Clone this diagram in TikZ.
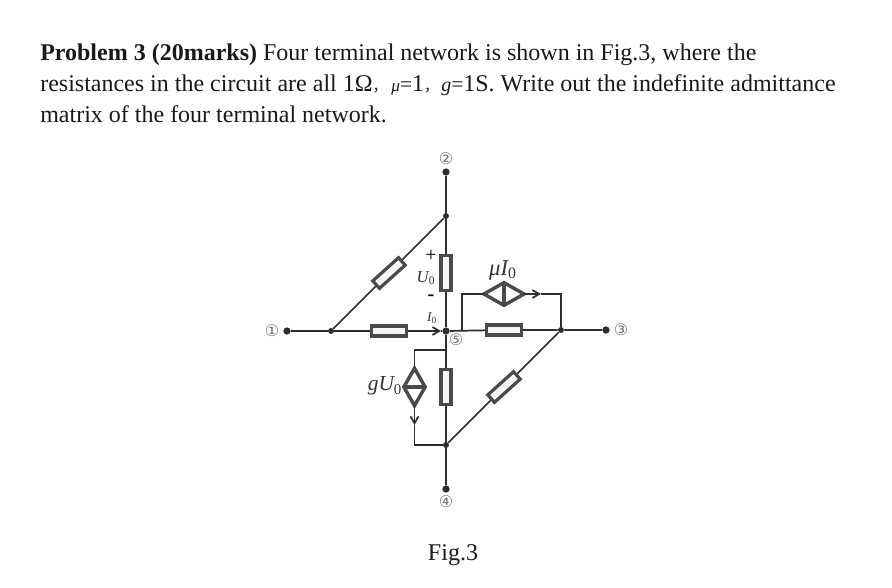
\documentclass[tikz,border=0pt]{standalone}
\usepackage{fontspec}
\setmainfont{Liberation Serif}
\newfontfamily\symfont{DejaVu Sans}
\newfontfamily\cjk{Noto Sans CJK SC}
\usetikzlibrary{arrows,calc,positioning,shapes.geometric}
\definecolor{wirecol}{HTML}{2E2E2E}
\definecolor{bodycol}{HTML}{4A4A4A}
\tikzset{
  absatz/.style={anchor=base west,inner sep=0pt,font=\fontsize{18}{20}\selectfont,text=black!90},
  punkt/.style={circle,fill=wirecol,inner sep=0pt,minimum size=5.5pt},
  knick/.style={circle,fill=wirecol,inner sep=0pt,minimum size=4.5pt},
  widerstand/.style={draw=bodycol,line width=2.4pt,fill=black!4,rectangle,inner sep=0pt,minimum width=26pt,minimum height=7.5pt},
  quelle/.style={draw=bodycol,line width=2.6pt,fill=white,diamond,aspect=1,inner sep=0pt,outer sep=0pt},
  leitung/.style={draw=wirecol,line width=1.3pt},
  klemme/.style={inner sep=0pt,text=black!55,font=\symfont\fontsize{12}{12}\selectfont},
  wert/.style={inner sep=0pt,text=black!80,font=\fontsize{12.5}{12.5}\selectfont\itshape}
}
\begin{document}
\begin{tikzpicture}[x=0.75pt,y=-0.75pt,>=angle 60]
\useasboundingbox (0,0) rectangle (892,587);
%Aufgabentext
\node[absatz] (zeileA) at (40,60) {\textbf{Problem 3 (20marks)} Four terminal network is shown in Fig.3, where the};
\node[absatz] (zeileB) at (40,91) {resistances in the circuit are all 1Ω{\cjk\fontsize{11}{11}\selectfont，}\hspace{3pt}{\itshape\fontsize{13}{13}\selectfont μ}{\fontsize{16}{16}\selectfont=}1{\cjk\fontsize{11}{11}\selectfont，}\hspace{2pt}{\itshape\fontsize{15}{15}\selectfont g}{\fontsize{16}{16}\selectfont=}1S. Write out the indefinite admittance};
\node[absatz] (zeileC) at (40,122) {matrix of the four terminal network.};
\node[absatz,anchor=base] (fig) at (453,560) {Fig.3};
%Punkte
\foreach \name/\pos in {tA/{(287,331)},tB/{(446,172)},tC/{(606,330)},tD/{(446,489)},tE/{(446,331)}}{
  \node[punkt] (\name) at \pos {};
}
\foreach \name/\pos in {jL/{(331,331)},jO/{(446,216)},jR/{(561,330)},jU/{(446,445)}}{
  \node[knick] (\name) at \pos {};
}
%Widerstaende
\node[widerstand] (rL) at (389,331) {};
\node[widerstand,rotate=90] (rO) at (446,273) {};
\node[widerstand,rotate=90] (rU) at (446,387) {};
\node[widerstand] (rR) at (504,330) {};
\node[widerstand,rotate=42] (rLO) at (389,273) {};
\node[widerstand,rotate=42] (rRU) at (504,387) {};
%Quellen
\node[quelle,minimum width=30pt,minimum height=17pt] (qmu) at (504,294) {};
\node[quelle,minimum width=16pt,minimum height=28pt] (qg) at (414.5,387) {};
\draw[draw=bodycol,line width=2.6pt] (qmu.north) -- (qmu.south);
\draw[draw=bodycol,line width=2.6pt] (qg.west) -- (qg.east);
%Hilfspunkte
\coordinate (mA) at (462,330);
\coordinate (mB) at (462,294);
\coordinate (mC) at (541,294);
\coordinate (mD) at (561,294);
\coordinate (gA) at (446,350);
\coordinate (gB) at (414.5,350);
\coordinate (gC) at (414.5,425);
\coordinate (gD) at (414.5,445);
\coordinate (iA) at (441,331);
%Leitungen
\draw[leitung] (tA) -- (jL) -- (rL);
\draw[leitung,->] (rL) -- (iA);
\draw[leitung] (iA) -- (tE);
\draw[leitung] (tB) -- (jO) -- (rO) (rO) -- (tE) -- (gA) -- (rU) (rU) -- (jU) -- (tD);
\draw[leitung] (jL) -- (rLO) (rLO) -- (jO);
\draw[leitung] (tE) -- (rR) (rR) -- (jR) -- (tC);
\draw[leitung] (jR) -- (rRU) (rRU) -- (jU);
\draw[leitung] (mA) -- (mB) -- (qmu);
\draw[leitung,->] (qmu) -- (mC);
\draw[leitung] (mC) -- (mD) -- (jR);
\draw[leitung] (gA) -- (gB) -- (qg);
\draw[leitung,->] (qg) -- (gC);
\draw[leitung] (gC) -- (gD) -- (jU);
%Beschriftung
\node[klemme] (lA) at (272,331) {①};
\node[klemme] (lB) at (446,159) {②};
\node[klemme] (lC) at (621,330) {③};
\node[klemme] (lD) at (446,502) {④};
\node[klemme] (lE) at (456,340) {⑤};
\node[inner sep=0pt,font=\fontsize{15}{15}\selectfont] (plus) at (431,256) {+};
\node[inner sep=0pt,font=\fontsize{15}{15}\selectfont\bfseries] (minus) at (431,298) {-};
\node[wert] (uNull) at (426,278) {U\textsubscript{\upshape 0}};
\node[wert,font=\fontsize{10}{10}\selectfont\itshape] (iNull) at (432,318) {I\textsubscript{\upshape 0}};
\node[wert,font=\fontsize{17}{17}\selectfont\itshape] (muI) at (503,270) {μI\textsubscript{\upshape 0}};
\node[wert,font=\fontsize{16}{16}\selectfont\itshape] (gU) at (385,386) {gU\textsubscript{\upshape 0}};
\end{tikzpicture}
\end{document}
